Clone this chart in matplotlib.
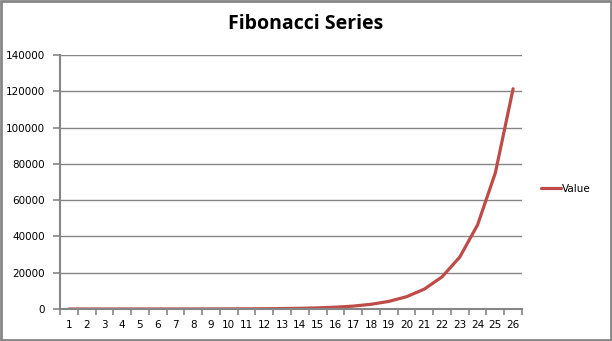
import matplotlib
matplotlib.use("Agg")
import matplotlib.pyplot as plt
from matplotlib.patches import Rectangle

# Fibonacci values
terms = list(range(1, 27))
values = [1, 1, 2, 3, 5, 8, 13, 21, 34, 55, 89, 144, 233, 377, 610, 987,
          1597, 2584, 4181, 6765, 10946, 17711, 28657, 46368, 75025, 121393]
yticks = [0, 20000, 40000, 60000, 80000, 100000, 120000, 140000]

grey = "#868686"
red = "#BE4B48"

fig = plt.figure(figsize=(6.12, 3.41), dpi=100)
ax = fig.add_axes([60/612, 1-309/341, 462/612, 254/341])

xpos = list(range(len(terms)))
ax.plot(xpos, values, color=red, lw=2.3, solid_capstyle="round", label="Value")

ax.set_xlim(-0.5, len(terms) - 0.5)
ax.set_ylim(0, 140000)
ax.set_yticks(yticks)
ax.set_yticklabels([str(v) for v in yticks], fontsize=7.5, family="DejaVu Sans")
ax.set_xticks(xpos)
ax.set_xticklabels([str(t) for t in terms], fontsize=7.5, family="DejaVu Sans")
ax.set_xticks([x - 0.5 for x in range(len(terms) + 1)], minor=True)
ax.tick_params(axis="x", which="major", length=0, pad=8)
ax.tick_params(axis="x", which="minor", length=4, color=grey, width=1.2, direction="out")
ax.tick_params(axis="y", length=5, color=grey, width=1.2, pad=6)
ax.grid(axis="y", color=grey, lw=1.0)
ax.set_axisbelow(True)
for s in ["top", "right"]:
    ax.spines[s].set_visible(False)
for s in ["left", "bottom"]:
    ax.spines[s].set_color(grey)
    ax.spines[s].set_linewidth(1.5)

fig.text(0.5, 1-24/341, "Fibonacci Series", ha="center", va="center",
         fontsize=14, fontweight="bold", family="Open Sans")

leg = ax.legend(loc="center left", bbox_to_anchor=((541-60)/462, (309-189)/254),
                frameon=False, fontsize=7.5, handlelength=1.9, handletextpad=0.1,
                borderpad=0, borderaxespad=0)

fig.patches.append(Rectangle((0.002, 0.003), 0.996, 0.994, transform=fig.transFigure,
                             fill=False, edgecolor=grey, lw=2))

fig.savefig("out.png", dpi=100)
